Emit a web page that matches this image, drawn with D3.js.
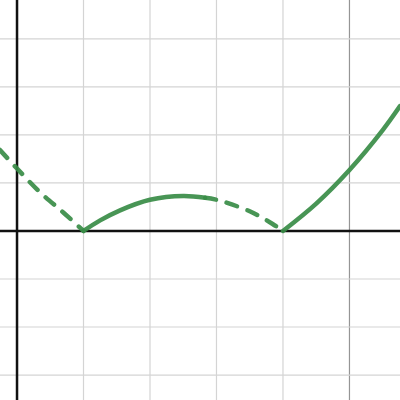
<!DOCTYPE html>
<head>
  <meta charset="utf-8">
  <style>
    body { margin: 0; background: #fff; }
    .grid { stroke: #d4d4d4; stroke-width: 1.2px; }
    .grid.major { stroke: #959595; }
    .axis { stroke: #111; stroke-width: 2.5px; }
    .curve { fill: none; stroke: #388c46; stroke-width: 4.5px; stroke-linecap: round; opacity: 0.92; }
    .dashed { stroke-dasharray: 11 11; }
  </style>
</head>
<body>
<svg id="graph" width="400" height="400"></svg>
<script src="https://cdn.jsdelivr.net/npm/d3@7"></script>
<script>
  // grid lines (graph units)
  var xGrid = [1, 2, 3, 4, 5];
  var xMajor = [5];
  var yGrid = [-3, -2, -1, 1, 2, 3, 4];

  // curve pieces, [x, y]
  var leftDashed = [[-0.26, 1.69], [0, 1.3], [0.35, 0.8], [0.7, 0.38], [1, 0]];
  var midSolid = [[1, 0], [1.25, 0.22], [1.55, 0.43], [2, 0.65], [2.5, 0.73], [2.83, 0.69]];
  var midDashed = [[2.83, 0.69], [3, 0.65], [3.5, 0.41], [3.85, 0.14], [4, 0]];
  var rightSolid = [[4, 0], [4.5, 0.57], [5, 1.27], [5.5, 2.1], [5.76, 2.6]];

  var svg = d3.select("#graph");
  var x = d3.scaleLinear().domain([-0.256, 5.76]).range([0, 400]);
  var y = d3.scaleLinear().domain([4.81, -3.52]).range([0, 400]);

  svg.selectAll("line.vx").data(xGrid).enter().append("line")
    .attr("class", function(d) { return xMajor.indexOf(d) >= 0 ? "grid major" : "grid"; })
    .attr("x1", x).attr("x2", x).attr("y1", 0).attr("y2", 400);
  svg.selectAll("line.hy").data(yGrid).enter().append("line")
    .attr("class", "grid")
    .attr("y1", y).attr("y2", y).attr("x1", 0).attr("x2", 400);

  svg.append("line").attr("class", "axis")
    .attr("x1", x(0)).attr("x2", x(0)).attr("y1", 0).attr("y2", 400);
  svg.append("line").attr("class", "axis")
    .attr("y1", y(0)).attr("y2", y(0)).attr("x1", 0).attr("x2", 400);

  var line = d3.line()
    .x(function(d) { return x(d[0]); })
    .y(function(d) { return y(d[1]); })
    .curve(d3.curveCatmullRom.alpha(0.5));

  [[leftDashed, true], [midSolid, false], [midDashed, true], [rightSolid, false]].forEach(function(p) {
    svg.append("path").datum(p[0])
      .attr("class", p[1] ? "curve dashed" : "curve")
      .attr("d", line);
  });
</script>
</body>
